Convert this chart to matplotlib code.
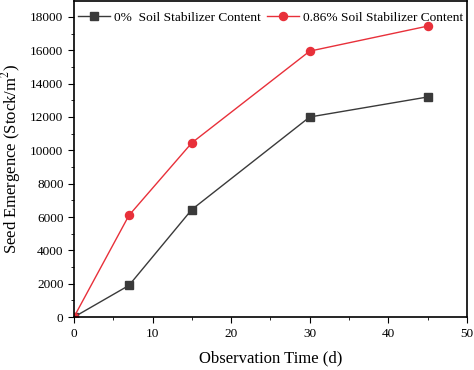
import matplotlib.pyplot as plt
from matplotlib.ticker import MultipleLocator

days = [0, 7, 15, 30, 45]
control = [0, 1900, 6450, 12000, 13200]
stabilized = [0, 6100, 10450, 15950, 17450]

plt.rcParams['font.family'] = ['Liberation Serif', 'DejaVu Serif']
plt.rcParams['mathtext.fontset'] = 'stix'

fig = plt.figure(figsize=(4.74, 3.70), dpi=100)
ax = fig.add_axes([0.156, 0.143, 0.829, 0.854])

ax.plot(days, control, color='#3a3a3a', marker='s', markersize=5.2, lw=1,
        label='0%  Soil Stabilizer Content')
ax.plot(days, stabilized, color='#e8303a', marker='o', markersize=5.8, lw=1,
        label='0.86% Soil Stabilizer Content')

ax.set_xlim(0, 50)
ax.set_ylim(0, 18950)
ax.xaxis.set_major_locator(MultipleLocator(10))
ax.xaxis.set_minor_locator(MultipleLocator(5))
ax.yaxis.set_major_locator(MultipleLocator(2000))
ax.yaxis.set_minor_locator(MultipleLocator(1000))
ax.tick_params(which='both', direction='out', top=False, right=False, labelsize=9.5)
ax.tick_params(which='major', length=4)
ax.tick_params(which='minor', length=2.5)
for s in ax.spines.values():
    s.set_linewidth(1.2)

ax.set_xlabel('Observation Time (d)', fontsize=12, labelpad=8)
ax.set_ylabel('Seed Emergence (Stock/m$^2$)', fontsize=12, labelpad=5)

ax.legend(loc='upper left', ncol=2, frameon=False, fontsize=9.6,
          bbox_to_anchor=(-0.018, 1.0), handlelength=2.4, handletextpad=0.3,
          columnspacing=0.5, borderaxespad=0.4)

fig.savefig('out.png', dpi=100)
